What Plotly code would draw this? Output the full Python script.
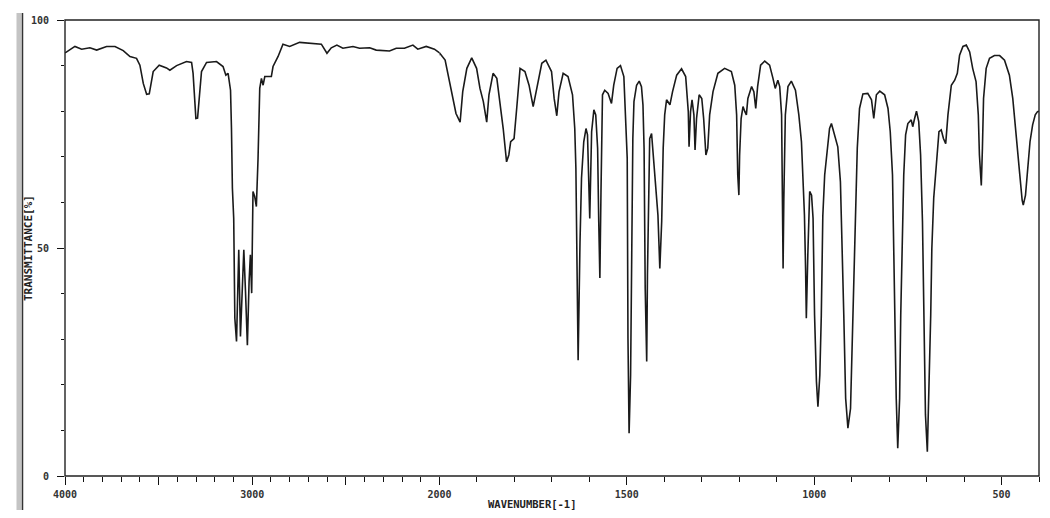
import plotly.graph_objects as go

# ---- data ----
wavenumber = [
    4000, 3995, 3947, 3911, 3867, 3831, 3778, 3733, 3689, 3653, 3618, 3600, 3582, 3570, 3564, 3550,
    3529, 3497, 3458, 3440, 3404, 3351, 3324, 3316, 3307, 3301, 3292, 3284, 3271, 3244, 3191, 3156,
    3141, 3129, 3116, 3111, 3106, 3099, 3093, 3084, 3072, 3063, 3054, 3045, 3036, 3026, 3017, 3010,
    3003, 2996, 2987, 2978, 2969, 2960, 2951, 2942, 2933, 2898, 2889, 2862, 2836, 2800, 2747, 2676,
    2631, 2601, 2578, 2548, 2516, 2462, 2427, 2373, 2338, 2267, 2231, 2187, 2142, 2116, 2071, 2027,
    2000, 1985, 1976, 1963, 1956, 1945, 1938, 1927, 1914, 1901, 1892, 1883, 1874, 1868, 1857, 1847,
    1839, 1830, 1821, 1815, 1810, 1801, 1794, 1785, 1772, 1761, 1750, 1741, 1727, 1716, 1701, 1694,
    1687, 1681, 1670, 1657, 1645, 1639, 1636, 1633, 1630, 1625, 1621, 1615, 1609, 1605, 1601, 1599,
    1594, 1588, 1583, 1578, 1575, 1572, 1569, 1565, 1559, 1550, 1541, 1535, 1526, 1517, 1508, 1503,
    1499, 1497, 1494, 1490, 1487, 1484, 1481, 1474, 1467, 1461, 1457, 1454, 1451, 1447, 1445, 1442,
    1439, 1434, 1430, 1423, 1417, 1412, 1407, 1403, 1399, 1394, 1385, 1378, 1367, 1354, 1343, 1336,
    1334, 1330, 1326, 1321, 1318, 1314, 1307, 1300, 1295, 1289, 1284, 1279, 1270, 1257, 1239, 1221,
    1212, 1207, 1204, 1201, 1199, 1195, 1190, 1185, 1181, 1177, 1167, 1161, 1156, 1151, 1143, 1132,
    1119, 1110, 1104, 1097, 1092, 1087, 1085, 1083, 1081, 1077, 1070, 1061, 1050, 1041, 1034, 1030,
    1026, 1023, 1021, 1017, 1012, 1007, 1003, 999, 994, 990, 985, 981, 977, 972, 966, 959,
    954, 945, 937, 930, 925, 921, 916, 910, 903, 899, 894, 889, 885, 879, 870, 857,
    847, 841, 834, 825, 812, 803, 797, 791, 788, 784, 781, 777, 772, 769, 766, 761,
    756, 750, 741, 737, 732, 727, 721, 716, 711, 707, 703, 698, 694, 689, 686, 681,
    674, 667, 661, 655, 649, 643, 634, 625, 618, 612, 603, 594, 585, 577, 568, 562,
    559, 554, 551, 548, 541, 532, 519, 505, 492, 479, 470, 461, 452, 445, 442, 436,
    430, 424, 417, 410, 404, 400,
]
transmittance = [
    92.8, 92.9, 94.2, 93.6, 93.9, 93.4, 94.2, 94.2, 93.3, 92.0, 91.6, 90.1, 86.1, 84.5, 83.7, 83.8,
    88.7, 90.1, 89.5, 89.0, 90.0, 90.9, 90.7, 88.3, 81.7, 78.4, 78.5, 82.8, 88.7, 90.7, 90.9, 89.8,
    87.9, 88.3, 84.6, 76.2, 63.1, 56.5, 34.6, 29.5, 49.6, 30.6, 39.7, 49.6, 40.4, 28.7, 42.6, 48.5,
    40.1, 62.4, 61.3, 59.1, 69.7, 85.0, 87.2, 85.7, 87.6, 87.6, 89.8, 92.0, 94.7, 94.2, 95.1, 94.9,
    94.7, 92.7, 93.9, 94.5, 93.8, 94.2, 93.8, 93.9, 93.4, 93.2, 93.8, 93.8, 94.5, 93.6, 94.2, 93.6,
    92.8, 91.2, 87.6, 82.8, 79.5, 77.6, 84.3, 89.4, 91.7, 89.4, 85.0, 82.1, 77.6, 83.6, 88.3, 87.2,
    82.1, 76.2, 68.9, 70.4, 73.3, 74.0, 80.6, 89.4, 88.7, 85.7, 81.0, 85.0, 90.5, 91.2, 88.7, 82.8,
    79.0, 84.3, 88.3, 87.6, 83.6, 76.2, 67.5, 46.3, 25.4, 51.4, 65.3, 73.3, 76.2, 74.8, 64.5, 56.5,
    75.5, 80.3, 79.2, 71.9, 55.8, 43.4, 62.4, 83.6, 84.6, 83.9, 81.7, 85.7, 89.4, 90.0, 87.6, 79.2,
    69.7, 30.2, 9.4, 22.1, 52.9, 74.0, 82.1, 85.7, 86.6, 85.4, 81.4, 71.9, 41.2, 25.1, 44.1, 66.0,
    74.0, 75.1, 71.1, 63.8, 57.2, 45.5, 55.8, 71.9, 79.2, 82.5, 81.4, 84.3, 87.9, 89.3, 87.6, 79.9,
    72.2, 79.9, 82.5, 79.2, 71.5, 78.4, 83.6, 82.8, 78.4, 70.4, 71.9, 79.2, 84.3, 88.3, 89.4, 88.7,
    85.7, 79.2, 66.0, 61.6, 70.4, 78.4, 81.0, 79.9, 79.2, 82.8, 85.4, 84.3, 80.6, 85.4, 90.1, 91.0,
    90.1, 87.2, 85.0, 86.8, 85.4, 79.2, 60.9, 45.5, 60.9, 79.2, 85.4, 86.6, 84.6, 79.2, 73.3, 66.7,
    57.2, 45.5, 34.6, 48.5, 62.4, 61.6, 56.5, 35.3, 20.7, 15.2, 22.1, 35.3, 57.0, 66.0, 71.0, 76.2,
    77.3, 74.8, 72.2, 64.5, 49.9, 35.3, 17.0, 10.5, 14.8, 28.0, 42.6, 57.2, 71.9, 80.6, 83.8, 83.9,
    82.5, 78.4, 83.6, 84.4, 83.6, 80.6, 75.5, 66.0, 49.9, 35.3, 17.0, 6.1, 17.0, 35.3, 49.9, 66.0,
    74.8, 77.3, 78.1, 76.6, 78.4, 80.0, 77.7, 70.4, 55.8, 35.3, 13.4, 5.3, 17.0, 35.3, 49.9, 60.9,
    68.2, 75.5, 75.9, 74.0, 72.9, 79.2, 85.7, 86.8, 88.3, 92.3, 94.2, 94.5, 93.0, 89.4, 86.5, 79.2,
    70.4, 63.7, 71.9, 82.8, 89.4, 91.6, 92.2, 92.2, 91.2, 87.9, 82.8, 75.5, 66.7, 60.5, 59.4, 61.6,
    68.2, 73.3, 77.0, 79.2, 79.9, 80.0,
]

# axis tick labels
upper_labels = {4000: "4000", 3000: "3000"}
lower_labels = {2000: "2000", 1500: "1500", 1000: "1000", 500: "500"}
y_tick_values = [0, 50, 100]
y_tick_labels = ["0", "50", "100"]

x_title = "WAVENUMBER[-1]"
y_title = "TRANSMITTANCE[%]"

# ---- layout constants (page has an 8px body margin) ----
PAGE = 8
W, H = 1050 - 2 * PAGE, 518 - 2 * PAGE
PL, PR, PT, PB = 65, 1039, 20, 476        # plot box in page pixels
L = PL - PAGE
R = (W + PAGE) - PR
T = PT - PAGE
B = (H + PAGE) - PB
plot_w = PR - PL
plot_h = PB - PT
split = (439.5 - PL) / plot_w  # scale change at 2000 cm-1


def px(xp):
    return (xp - PL) / plot_w


def py(yp):
    return (PB - yp) / plot_h


font_family = "DejaVu Sans Mono, monospace"
tick_font = dict(family=font_family, size=10, color="#333", weight="bold")
line_color = "#1a1a1a"

upper_range = [4000, 2000]
lower_range = [2000, 400]
upper_minor = list(range(4000, 2000, -100))
lower_minor = list(range(2000, 399, -100))
upper_major = [v for v in upper_minor if v % 500 == 0]
lower_major = [v for v in lower_minor if v % 500 == 0]

fig = go.Figure()
for xa in ("x", "x2"):
    fig.add_trace(go.Scatter(x=wavenumber, y=transmittance, xaxis=xa, yaxis="y",
                             mode="lines", line=dict(color=line_color, width=1.6),
                             showlegend=False, hoverinfo="skip"))
# invisible traces so the overlay tick axes get drawn
for xa, rng in (("x3", upper_range), ("x4", lower_range)):
    fig.add_trace(go.Scatter(x=rng, y=[None, None], xaxis=xa, yaxis="y",
                             mode="lines", showlegend=False, hoverinfo="skip"))

base_x = dict(anchor="y", showgrid=False, zeroline=False, showline=False,
              tickcolor="#111", ticks="outside", tickmode="array")


def label_axis(domain, rng, minor_vals, labels):
    return dict(domain=domain, range=rng, tickvals=minor_vals,
                ticktext=[labels.get(v, "") for v in minor_vals],
                ticklen=5, tickwidth=1.3, tickfont=tick_font, ticklabelstandoff=4,
                **base_x)


def major_axis(overlay, rng, major_vals):
    return dict(overlaying=overlay, range=rng, tickvals=major_vals,
                ticktext=["" for _ in major_vals], ticklen=8, tickwidth=1.3,
                showticklabels=False, **base_x)


fig.update_layout(
    width=W, height=H,
    margin=dict(l=L, r=R, t=T, b=B, pad=0),
    paper_bgcolor="white", plot_bgcolor="white",
    xaxis=label_axis([0, split], upper_range, upper_minor, upper_labels),
    xaxis2=label_axis([split, 1], lower_range, lower_minor, lower_labels),
    xaxis3=major_axis("x", upper_range, upper_major),
    xaxis4=major_axis("x2", lower_range, lower_major),
    yaxis=dict(domain=[0, 1], range=[0, 100], anchor="x",
               showgrid=False, zeroline=False, showline=False,
               ticks="outside", ticklen=7, tickwidth=1.3, tickcolor="#111",
               tickmode="array", tickvals=y_tick_values, ticktext=y_tick_labels,
               tickfont=tick_font, ticklabelstandoff=6,
               minor=dict(dtick=10, tick0=0, ticks="outside", ticklen=3,
                          tickwidth=1.3, tickcolor="#111", showgrid=False)),
    shapes=[
        dict(type="rect", xref="paper", yref="paper", x0=0, x1=1, y0=0, y1=1,
             line=dict(color="#222", width=1.4), fillcolor="rgba(0,0,0,0)", layer="above"),
        dict(type="rect", xref="paper", yref="paper",
             x0=px(16.5), x1=px(21.5), y0=py(510), y1=py(13),
             line=dict(width=0), fillcolor="#c4c4c4"),
        dict(type="line", xref="paper", yref="paper",
             x0=px(22.5), x1=px(22.5), y0=py(510), y1=py(13),
             line=dict(color="#333", width=1.5)),
    ],
    annotations=[
        dict(text=x_title, xref="paper", yref="paper",
             x=px(532), y=py(504),
             xanchor="center", yanchor="middle", showarrow=False,
             font=dict(family=font_family, size=10.5, color="#222", weight="bold")),
        dict(text=y_title, xref="paper", yref="paper",
             x=px(28), y=py(248),
             xanchor="center", yanchor="middle", showarrow=False, textangle=-90,
             font=dict(family=font_family, size=11, color="#222", weight="bold")),
    ],
)

fig.write_html("out.html")
